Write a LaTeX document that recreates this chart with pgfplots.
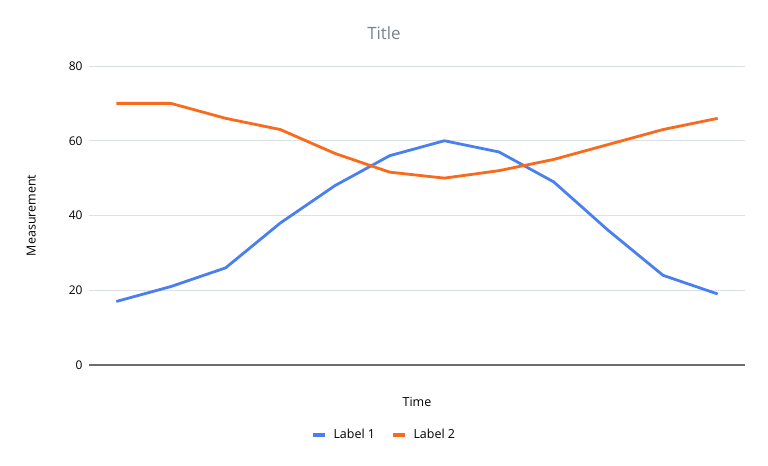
\documentclass[border=0pt]{standalone}
\usepackage{pgfplots}
\pgfplotsset{compat=1.18}
\usepackage{fontspec}
\setmainfont{Open Sans}
\definecolor{sblue}{HTML}{4A7FF0}
\definecolor{sorange}{HTML}{FA6A1C}
\definecolor{gridc}{HTML}{DCE1E3}
\definecolor{axc}{HTML}{6B6E70}
\definecolor{titlec}{HTML}{7A8288}
\begin{document}
\begin{tikzpicture}
\useasboundingbox (0,0) rectangle (768bp,466bp);
\begin{axis}[
  at={(89bp,101bp)}, anchor=south west,
  scale only axis, width=656bp, height=299bp,
  xmin=-0.5, xmax=11.5, ymin=0, ymax=80,
  xtick=\empty,
  ytick={20,40,60,80},
  extra y ticks={0},
  extra y tick style={grid style={color=axc, line width=1.4bp}},
  ymajorgrids, grid style={color=gridc, line width=0.8bp},
  axis line style={draw=none},
  major tick length=0pt,
  tick label style={font=\fontsize{12}{14}\selectfont, black},
  yticklabel style={xshift=-3bp},
  /pgf/number format/assume math mode=true,
  clip=false,
  xlabel={Time},
  xlabel style={font=\fontsize{12.5}{15}\selectfont, at={(axis description cs:0.5,-0.124)}, anchor=center},
  ylabel={Measurement},
  ylabel style={font=\fontsize{12.5}{15}\selectfont, at={(axis description cs:-0.088,0.5)}, anchor=center, rotate=0},
  legend columns=2,
  legend style={draw=none, at={(axis description cs:0.4497,-0.234)}, anchor=center,
    font=\fontsize{12.5}{15}\selectfont,
    /tikz/every odd column/.append style={column sep=5bp},
    /tikz/every even column/.append style={column sep=14bp}},
  legend image code/.code={\draw[#1, line width=3.5bp] (0bp,0bp) -- (12bp,0bp);},
]
\addplot[sblue, line width=2.8bp, line join=round] coordinates {
(0,17) (1,21) (2,26) (3,38) (4,48) (5,56) (6,60) (7,57) (8,49) (9,36) (10,24) (11,19)};
\addlegendentry{Label 1}
\addplot[sorange, line width=2.8bp, line join=round] coordinates {
(0,70) (1,70) (2,66) (3,63) (4,56.6) (5,51.6) (6,50) (7,52) (8,55) (9,59) (10,63) (11,66)};
\addlegendentry{Label 2}
\end{axis}
\node[font=\fontsize{17}{20}\selectfont, text=titlec, anchor=center] at (384bp,433bp) {Title};
\end{tikzpicture}
\end{document}
